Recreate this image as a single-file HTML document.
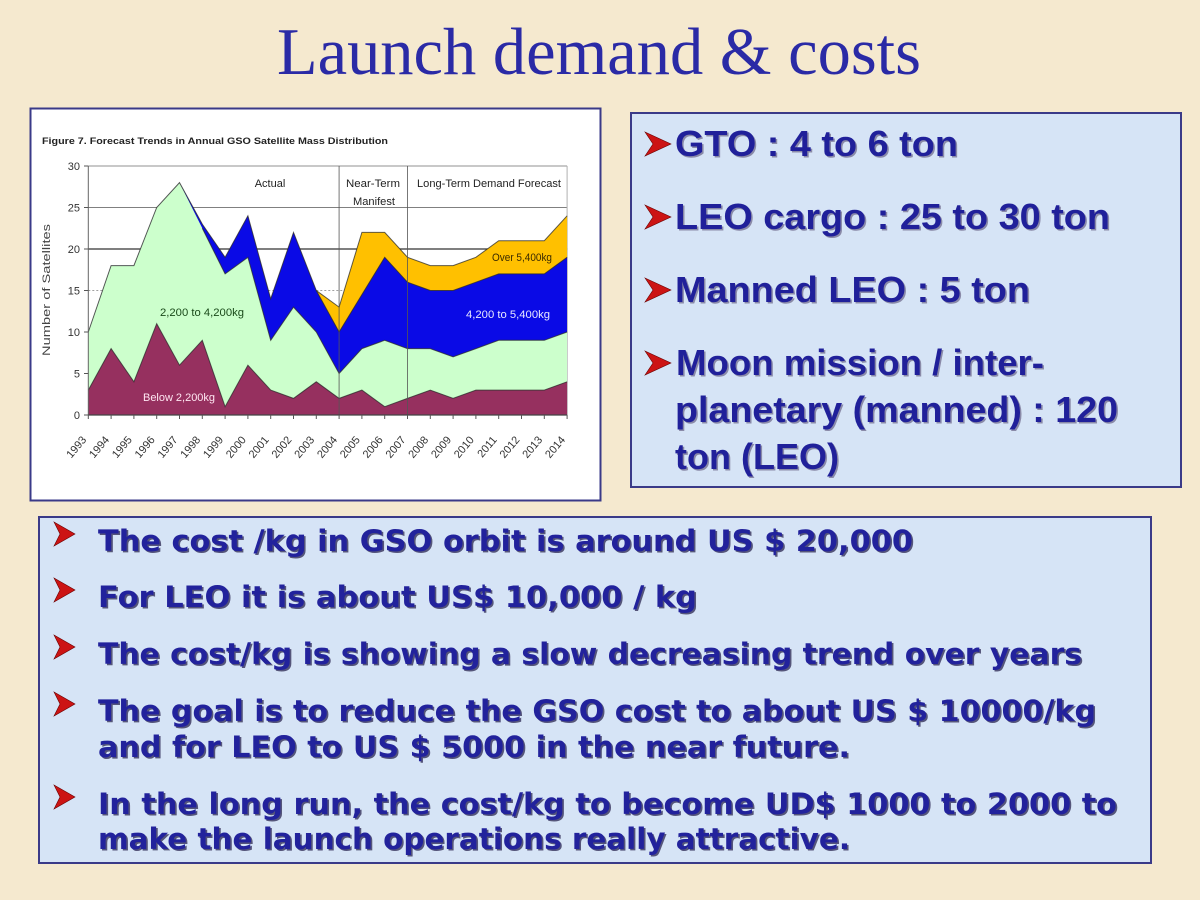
<!DOCTYPE html>
<html><head><meta charset="utf-8"><style>
html,body{margin:0;padding:0;background:#f5e9cf;}
svg{display:block}
</style></head><body>
<svg width="1200" height="900" viewBox="0 0 1200 900" xmlns="http://www.w3.org/2000/svg">
<defs>
<filter id="tex" x="0" y="0" width="100%" height="100%">
<feTurbulence type="fractalNoise" baseFrequency="0.05" numOctaves="3" seed="3"/>
<feColorMatrix type="matrix" values="0 0 0 0 0.96  0 0 0 0 0.91  0 0 0 0 0.80  0 0 0 0.35 0"/>
</filter>
<g id="arrow"><polygon points="0,0 1,0.5 0,1 0.3,0.5" /></g>
</defs>
<rect x="0" y="0" width="1200" height="900" fill="#f5e9cf"/>

<!-- Title -->
<text x="277" y="74" font-family="Liberation Serif, serif" font-size="67" fill="#2a2aa6" textLength="644" lengthAdjust="spacingAndGlyphs">Launch demand &amp; costs</text>

<!-- Chart box -->
<rect x="30.5" y="108.5" width="570" height="392" fill="#ffffff" stroke="#3a3a88" stroke-width="2"/>
<g font-family="Liberation Sans, Arial, sans-serif">
<text x="42" y="144" font-size="9" font-weight="bold" fill="#222" textLength="346" lengthAdjust="spacingAndGlyphs">Figure 7. Forecast Trends in Annual GSO Satellite Mass Distribution</text>

<!-- gridlines -->
<g stroke="#a0a0a0" stroke-width="1">
<line x1="88.3" y1="373.5" x2="567.1" y2="373.5"/>
<line x1="88.3" y1="332" x2="567.1" y2="332"/>
<line x1="88.3" y1="290.5" x2="567.1" y2="290.5" stroke-dasharray="2,2"/>
<line x1="88.3" y1="207.5" x2="567.1" y2="207.5" stroke="#808080"/>
<line x1="88.3" y1="166" x2="567.1" y2="166" stroke="#909090"/>
<line x1="567.1" y1="166" x2="567.1" y2="415" stroke="#b0b0b0"/>
</g>
<line x1="88.3" y1="249" x2="567.1" y2="249" stroke="#333" stroke-width="1.3"/>

<!-- areas -->
<polygon fill="#ffc000" points="88.3,332 111.1,265.6 133.9,265.6 156.7,207.5 179.5,182.6 202.3,224.1 225.1,257.3 247.9,215.8 270.7,298.8 293.5,232.4 316.3,290.5 339.1,307.1 361.9,232.4 384.7,232.4 407.5,257.3 430.3,265.6 453.1,265.6 475.9,257.3 498.7,240.7 521.5,240.7 544.3,240.7 567.1,215.8 567.1,415 88.3,415"/>
<polygon fill="#0a0ae6" points="88.3,332 111.1,265.6 133.9,265.6 156.7,207.5 179.5,182.6 202.3,224.1 225.1,257.3 247.9,215.8 270.7,298.8 293.5,232.4 316.3,290.5 339.1,332 361.9,294.65 384.7,257.3 407.5,282.2 430.3,290.5 453.1,290.5 475.9,282.2 498.7,273.9 521.5,273.9 544.3,273.9 567.1,257.3 567.1,415 88.3,415"/>
<polygon fill="#ccffcc" points="88.3,332 111.1,265.6 133.9,265.6 156.7,207.5 179.5,182.6 202.3,228.25 225.1,273.9 247.9,257.3 270.7,340.3 293.5,307.1 316.3,332 339.1,373.5 361.9,348.6 384.7,340.3 407.5,348.6 430.3,348.6 453.1,356.9 475.9,348.6 498.7,340.3 521.5,340.3 544.3,340.3 567.1,332 567.1,415 88.3,415"/>
<polygon fill="#96305f" points="88.3,390.1 111.1,348.6 133.9,381.8 156.7,323.7 179.5,365.2 202.3,340.3 225.1,406.7 247.9,365.2 270.7,390.1 293.5,398.4 316.3,381.8 339.1,398.4 361.9,390.1 384.7,406.7 407.5,398.4 430.3,390.1 453.1,398.4 475.9,390.1 498.7,390.1 521.5,390.1 544.3,390.1 567.1,381.8 567.1,415 88.3,415"/>

<!-- outlines -->
<g fill="none" stroke="#2a2a2a" stroke-width="1" stroke-opacity="0.75">
<polyline points="88.3,332 111.1,265.6 133.9,265.6 156.7,207.5 179.5,182.6 202.3,224.1 225.1,257.3 247.9,215.8 270.7,298.8 293.5,232.4 316.3,290.5 339.1,307.1 361.9,232.4 384.7,232.4 407.5,257.3 430.3,265.6 453.1,265.6 475.9,257.3 498.7,240.7 521.5,240.7 544.3,240.7 567.1,215.8"/>
<polyline points="316.3,290.5 339.1,332 361.9,294.65 384.7,257.3 407.5,282.2 430.3,290.5 453.1,290.5 475.9,282.2 498.7,273.9 521.5,273.9 544.3,273.9 567.1,257.3"/>
<polyline points="202.3,228.25 225.1,273.9 247.9,257.3 270.7,340.3 293.5,307.1 316.3,332 339.1,373.5 361.9,348.6 384.7,340.3 407.5,348.6 430.3,348.6 453.1,356.9 475.9,348.6 498.7,340.3 521.5,340.3 544.3,340.3 567.1,332"/>
<polyline points="88.3,390.1 111.1,348.6 133.9,381.8 156.7,323.7 179.5,365.2 202.3,340.3 225.1,406.7 247.9,365.2 270.7,390.1 293.5,398.4 316.3,381.8 339.1,398.4 361.9,390.1 384.7,406.7 407.5,398.4 430.3,390.1 453.1,398.4 475.9,390.1 498.7,390.1 521.5,390.1 544.3,390.1 567.1,381.8"/>
</g>

<!-- dividers -->
<line x1="339.1" y1="166" x2="339.1" y2="415" stroke="#555" stroke-width="1" stroke-opacity="0.8"/>
<line x1="407.5" y1="166" x2="407.5" y2="415" stroke="#555" stroke-width="1" stroke-opacity="0.8"/>

<!-- axes -->
<line x1="88.3" y1="166" x2="88.3" y2="415" stroke="#666" stroke-width="1"/>
<line x1="88.3" y1="415" x2="567.1" y2="415" stroke="#444" stroke-width="1.2"/>
<g stroke="#555" stroke-width="1">
<line x1="84" y1="415" x2="88.3" y2="415"/><line x1="84" y1="373.5" x2="88.3" y2="373.5"/><line x1="84" y1="332" x2="88.3" y2="332"/><line x1="84" y1="290.5" x2="88.3" y2="290.5"/><line x1="84" y1="249" x2="88.3" y2="249"/><line x1="84" y1="207.5" x2="88.3" y2="207.5"/><line x1="84" y1="166" x2="88.3" y2="166"/>
<line x1="88.3" y1="415" x2="88.3" y2="419"/><line x1="111.1" y1="415" x2="111.1" y2="419"/><line x1="133.9" y1="415" x2="133.9" y2="419"/><line x1="156.7" y1="415" x2="156.7" y2="419"/><line x1="179.5" y1="415" x2="179.5" y2="419"/><line x1="202.3" y1="415" x2="202.3" y2="419"/><line x1="225.1" y1="415" x2="225.1" y2="419"/><line x1="247.9" y1="415" x2="247.9" y2="419"/><line x1="270.7" y1="415" x2="270.7" y2="419"/><line x1="293.5" y1="415" x2="293.5" y2="419"/><line x1="316.3" y1="415" x2="316.3" y2="419"/><line x1="339.1" y1="415" x2="339.1" y2="419"/><line x1="361.9" y1="415" x2="361.9" y2="419"/><line x1="384.7" y1="415" x2="384.7" y2="419"/><line x1="407.5" y1="415" x2="407.5" y2="419"/><line x1="430.3" y1="415" x2="430.3" y2="419"/><line x1="453.1" y1="415" x2="453.1" y2="419"/><line x1="475.9" y1="415" x2="475.9" y2="419"/><line x1="498.7" y1="415" x2="498.7" y2="419"/><line x1="521.5" y1="415" x2="521.5" y2="419"/><line x1="544.3" y1="415" x2="544.3" y2="419"/><line x1="567.1" y1="415" x2="567.1" y2="419"/>
</g>

<!-- y labels -->
<g font-size="11" fill="#333" text-anchor="end">
<text x="80" y="419">0</text><text x="80" y="377.5">5</text><text x="80" y="336">10</text><text x="80" y="294.5">15</text><text x="80" y="253">20</text><text x="80" y="211.5">25</text><text x="80" y="170">30</text>
</g>
<text transform="translate(50,290) rotate(-90)" text-anchor="middle" font-size="11" fill="#444" textLength="132" lengthAdjust="spacingAndGlyphs">Number of Satellites</text>

<!-- x labels -->
<g font-size="11" fill="#333" text-anchor="end">
<text transform="translate(87,440) rotate(-50)">1993</text>
<text transform="translate(109.8,440) rotate(-50)">1994</text>
<text transform="translate(132.6,440) rotate(-50)">1995</text>
<text transform="translate(155.4,440) rotate(-50)">1996</text>
<text transform="translate(178.2,440) rotate(-50)">1997</text>
<text transform="translate(201,440) rotate(-50)">1998</text>
<text transform="translate(223.8,440) rotate(-50)">1999</text>
<text transform="translate(246.6,440) rotate(-50)">2000</text>
<text transform="translate(269.4,440) rotate(-50)">2001</text>
<text transform="translate(292.2,440) rotate(-50)">2002</text>
<text transform="translate(315,440) rotate(-50)">2003</text>
<text transform="translate(337.8,440) rotate(-50)">2004</text>
<text transform="translate(360.6,440) rotate(-50)">2005</text>
<text transform="translate(383.4,440) rotate(-50)">2006</text>
<text transform="translate(406.2,440) rotate(-50)">2007</text>
<text transform="translate(429,440) rotate(-50)">2008</text>
<text transform="translate(451.8,440) rotate(-50)">2009</text>
<text transform="translate(474.6,440) rotate(-50)">2010</text>
<text transform="translate(497.4,440) rotate(-50)">2011</text>
<text transform="translate(520.2,440) rotate(-50)">2012</text>
<text transform="translate(543,440) rotate(-50)">2013</text>
<text transform="translate(565.8,440) rotate(-50)">2014</text>
</g>

<!-- region & series labels -->
<g font-size="11" fill="#222" text-anchor="middle">
<text x="270" y="187">Actual</text>
<text x="373" y="187" textLength="54" lengthAdjust="spacingAndGlyphs">Near-Term</text>
<text x="374" y="205" textLength="42" lengthAdjust="spacingAndGlyphs">Manifest</text>
<text x="489" y="187" textLength="144" lengthAdjust="spacingAndGlyphs">Long-Term Demand Forecast</text>
</g>
<text x="492" y="261" font-size="11" fill="#3a2a00" textLength="60" lengthAdjust="spacingAndGlyphs">Over 5,400kg</text>
<text x="466" y="318" font-size="11" fill="#e8e8ff" textLength="84" lengthAdjust="spacingAndGlyphs">4,200 to 5,400kg</text>
<text x="160" y="316" font-size="11" fill="#1a4a1a" textLength="84" lengthAdjust="spacingAndGlyphs">2,200 to 4,200kg</text>
<text x="143" y="401" font-size="11" fill="#ffe6f2" textLength="72" lengthAdjust="spacingAndGlyphs">Below 2,200kg</text>
</g>

<!-- Right box -->
<rect x="631" y="113" width="550" height="374" fill="#d6e4f6" stroke="#3a3a88" stroke-width="2"/>
<g fill="#cc1414" stroke="#6a0000" stroke-width="0.6">
<polygon points="645,132 671,144 645,156 653,144"/>
<polygon points="645,205 671,217 645,229 653,217"/>
<polygon points="645,278 671,290 645,302 653,290"/>
<polygon points="645,351 671,363 645,375 653,363"/>
</g>
<g font-family="Liberation Sans, Arial, sans-serif" font-weight="bold" font-size="36">
<g fill="#8a8aa8" transform="translate(1.5,1.5)">
<text x="675" y="156" textLength="283" lengthAdjust="spacingAndGlyphs">GTO : 4 to 6 ton</text>
<text x="675" y="229" textLength="435" lengthAdjust="spacingAndGlyphs">LEO  cargo : 25 to 30 ton</text>
<text x="675" y="302" textLength="355" lengthAdjust="spacingAndGlyphs">Manned LEO : 5 ton</text>
<text x="676" y="375" textLength="368" lengthAdjust="spacingAndGlyphs">Moon mission / inter-</text>
<text x="675" y="422" textLength="443" lengthAdjust="spacingAndGlyphs">planetary (manned) : 120</text>
<text x="675" y="469" textLength="164" lengthAdjust="spacingAndGlyphs">ton (LEO)</text>
</g>
<g fill="#20209a">
<text x="675" y="156" textLength="283" lengthAdjust="spacingAndGlyphs">GTO : 4 to 6 ton</text>
<text x="675" y="229" textLength="435" lengthAdjust="spacingAndGlyphs">LEO  cargo : 25 to 30 ton</text>
<text x="675" y="302" textLength="355" lengthAdjust="spacingAndGlyphs">Manned LEO : 5 ton</text>
<text x="676" y="375" textLength="368" lengthAdjust="spacingAndGlyphs">Moon mission / inter-</text>
<text x="675" y="422" textLength="443" lengthAdjust="spacingAndGlyphs">planetary (manned) : 120</text>
<text x="675" y="469" textLength="164" lengthAdjust="spacingAndGlyphs">ton (LEO)</text>
</g>
</g>

<!-- Bottom box -->
<rect x="39" y="517" width="1112" height="346" fill="#d6e4f6" stroke="#3a3a88" stroke-width="2"/>
<g fill="#cc1414" stroke="#6a0000" stroke-width="0.6">
<polygon points="54,522 75,534 54,546 60,534"/>
<polygon points="54,578 75,590 54,602 60,590"/>
<polygon points="54,635 75,647 54,659 60,647"/>
<polygon points="54,692 75,704 54,716 60,704"/>
<polygon points="54,785 75,797 54,809 60,797"/>
</g>
<g font-family="DejaVu Sans, Verdana, sans-serif" font-weight="bold" font-size="29">
<g fill="#55557a" transform="translate(1.6,1.6)">
<text x="98" y="551" textLength="815" lengthAdjust="spacingAndGlyphs">The cost /kg in GSO orbit is around US $ 20,000</text>
<text x="98" y="607" textLength="599" lengthAdjust="spacingAndGlyphs">For LEO it is about US$ 10,000 / kg</text>
<text x="98" y="664" textLength="984" lengthAdjust="spacingAndGlyphs">The cost/kg is showing a slow decreasing trend over years</text>
<text x="98" y="721" textLength="998" lengthAdjust="spacingAndGlyphs">The goal is to reduce the GSO cost to about US $ 10000/kg</text>
<text x="98" y="757" textLength="752" lengthAdjust="spacingAndGlyphs">and for LEO to US $ 5000 in the near future.</text>
<text x="98" y="814" textLength="1019" lengthAdjust="spacingAndGlyphs">In the long run, the cost/kg to become UD$ 1000 to 2000 to</text>
<text x="98" y="849" textLength="752" lengthAdjust="spacingAndGlyphs">make the launch operations really attractive.</text>
</g>
<g fill="#22229c">
<text x="98" y="551" textLength="815" lengthAdjust="spacingAndGlyphs">The cost /kg in GSO orbit is around US $ 20,000</text>
<text x="98" y="607" textLength="599" lengthAdjust="spacingAndGlyphs">For LEO it is about US$ 10,000 / kg</text>
<text x="98" y="664" textLength="984" lengthAdjust="spacingAndGlyphs">The cost/kg is showing a slow decreasing trend over years</text>
<text x="98" y="721" textLength="998" lengthAdjust="spacingAndGlyphs">The goal is to reduce the GSO cost to about US $ 10000/kg</text>
<text x="98" y="757" textLength="752" lengthAdjust="spacingAndGlyphs">and for LEO to US $ 5000 in the near future.</text>
<text x="98" y="814" textLength="1019" lengthAdjust="spacingAndGlyphs">In the long run, the cost/kg to become UD$ 1000 to 2000 to</text>
<text x="98" y="849" textLength="752" lengthAdjust="spacingAndGlyphs">make the launch operations really attractive.</text>
</g>
</g>
</svg>
</body></html>
